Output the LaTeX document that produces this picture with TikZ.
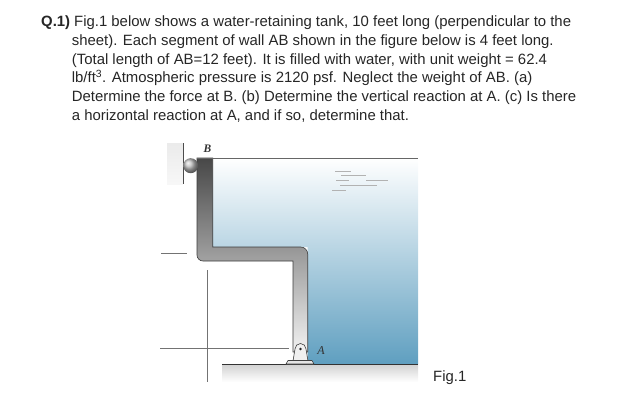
\documentclass[tikz,border=0pt]{standalone}
\usepackage{fontspec}
\setmainfont{Liberation Sans}
\newfontfamily\figserif{Liberation Serif}
\definecolor{waterdeep}{HTML}{5F9FC0}
\definecolor{watermid}{HTML}{B4CFDD}
\definecolor{wallink}{HTML}{3C3C3C}

\begin{document}
\begin{tikzpicture}[x=1pt,y=-1pt]
    \tikzstyle{question}=[anchor=base west,inner sep=0pt,font=\fontsize{14.9}{17}\selectfont,text=black!85]
    \tikzstyle{letter}=[inner sep=0pt,font=\figserif\itshape\bfseries\fontsize{11.5}{12}\selectfont,text=black!80]
    \tikzstyle{thin rule}=[draw=black!55,line width=0.7pt]
    \tikzstyle{ripple}=[draw=black!30,line width=0.5pt]
    \useasboundingbox (0,0) rectangle (633,416);

    % Draw the question text
    \node[question,font=\fontsize{14.9}{17}\selectfont\bfseries] (Q) at (41,26.7) {Q.1)};
    \node[question] (L-1) at (74,26.7) {Fig.1 below shows a water-retaining tank, 10 feet long (perpendicular to the};
    \node[question] (L-2) at (71.7,45.4) {sheet). Each segment of wall AB shown in the figure below is 4 feet long.};
    \node[question] (L-3) at (71.7,64.1) {(Total length of AB=12 feet). It is filled with water, with unit weight = 62.4};
    \node[question] (L-4) at (71.7,82.8) {lb/ft\textsuperscript{3}. Atmospheric pressure is 2120 psf. Neglect the weight of AB. (a)};
    \node[question] (L-5) at (71.7,101.5) {Determine the force at B. (b) Determine the vertical reaction at A. (c) Is there};
    \node[question] (L-6) at (71.7,120.2) {a horizontal reaction at A, and if so, determine that.};

    % Draw the water and the ground
    \shade[top color=white,middle color=watermid,bottom color=waterdeep]
        (212.7,158) -- (418,158) -- (418,364) -- (307.7,364) -- (307.7,247) -- (212.7,247) -- cycle;
    \shade[top color=black!18,bottom color=white] (222,364) rectangle (418,382);
    \shade[top color=black!8,bottom color=black!3] (167,143) rectangle (183,184);

    % Draw the wall AB
    \shade[top color=black!72,middle color=black!38,bottom color=black!5,draw=wallink,line width=0.6pt]
        (197,158) -- (212.7,158) -- (212.7,247) -- (293,247)
        [rounded corners=7pt] -- (307.7,247) [sharp corners] -- (307.7,352) -- (293,352) -- (293,261)
        [rounded corners=6pt] -- (197,261) [sharp corners] -- cycle;

    % Draw the free surface, the ground line and the support lines
    \draw[draw=black!60,line width=0.9pt] (197,158) -- (418,158);
    \draw[draw=black!80,line width=0.7pt] (222,364) -- (418,364);
    \draw[draw=black!70,line width=0.9pt] (183,143) -- (183,184);
    \draw[thin rule] (161,253) -- (187,253);
    \draw[thin rule] (207,270) -- (207,382);
    \draw[thin rule] (160,348) -- (289,348);

    % Draw the roller at B
    \shade[ball color=black!25] (190.7,165.7) circle (7.5);

    % Draw the pin at A
    \draw[fill=black!6,draw=black!75,line width=0.6pt]
        (293,361) -- (295,349) arc[start angle=180,end angle=360,radius=5.5] -- (308,361) -- cycle;
    \draw[fill=black!10,draw=black!75,line width=0.6pt] (286,364) -- (288,360.5) -- (312,360.5) -- (314,364) -- cycle;
    \fill[black!85] (300.5,349) circle (1.3);

    % Draw the ripples on the water
    \draw[ripple] (335,171) -- (351,171);
    \draw[ripple] (341,175) -- (366,175);
    \draw[ripple] (336,180) -- (349,180);
    \draw[ripple] (366,180) -- (388,180);
    \draw[ripple] (340,185) -- (377,185);
    \draw[ripple] (332,190) -- (346,190);

    % Annotate the figure
    \node[letter] (B) at (207.5,148.5) {B};
    \node[letter,font=\figserif\itshape\fontsize{12}{12}\selectfont] (A) at (321,351) {A};
    \node[question] (F) at (433,381.5) {Fig.1};
\end{tikzpicture}
\end{document}
